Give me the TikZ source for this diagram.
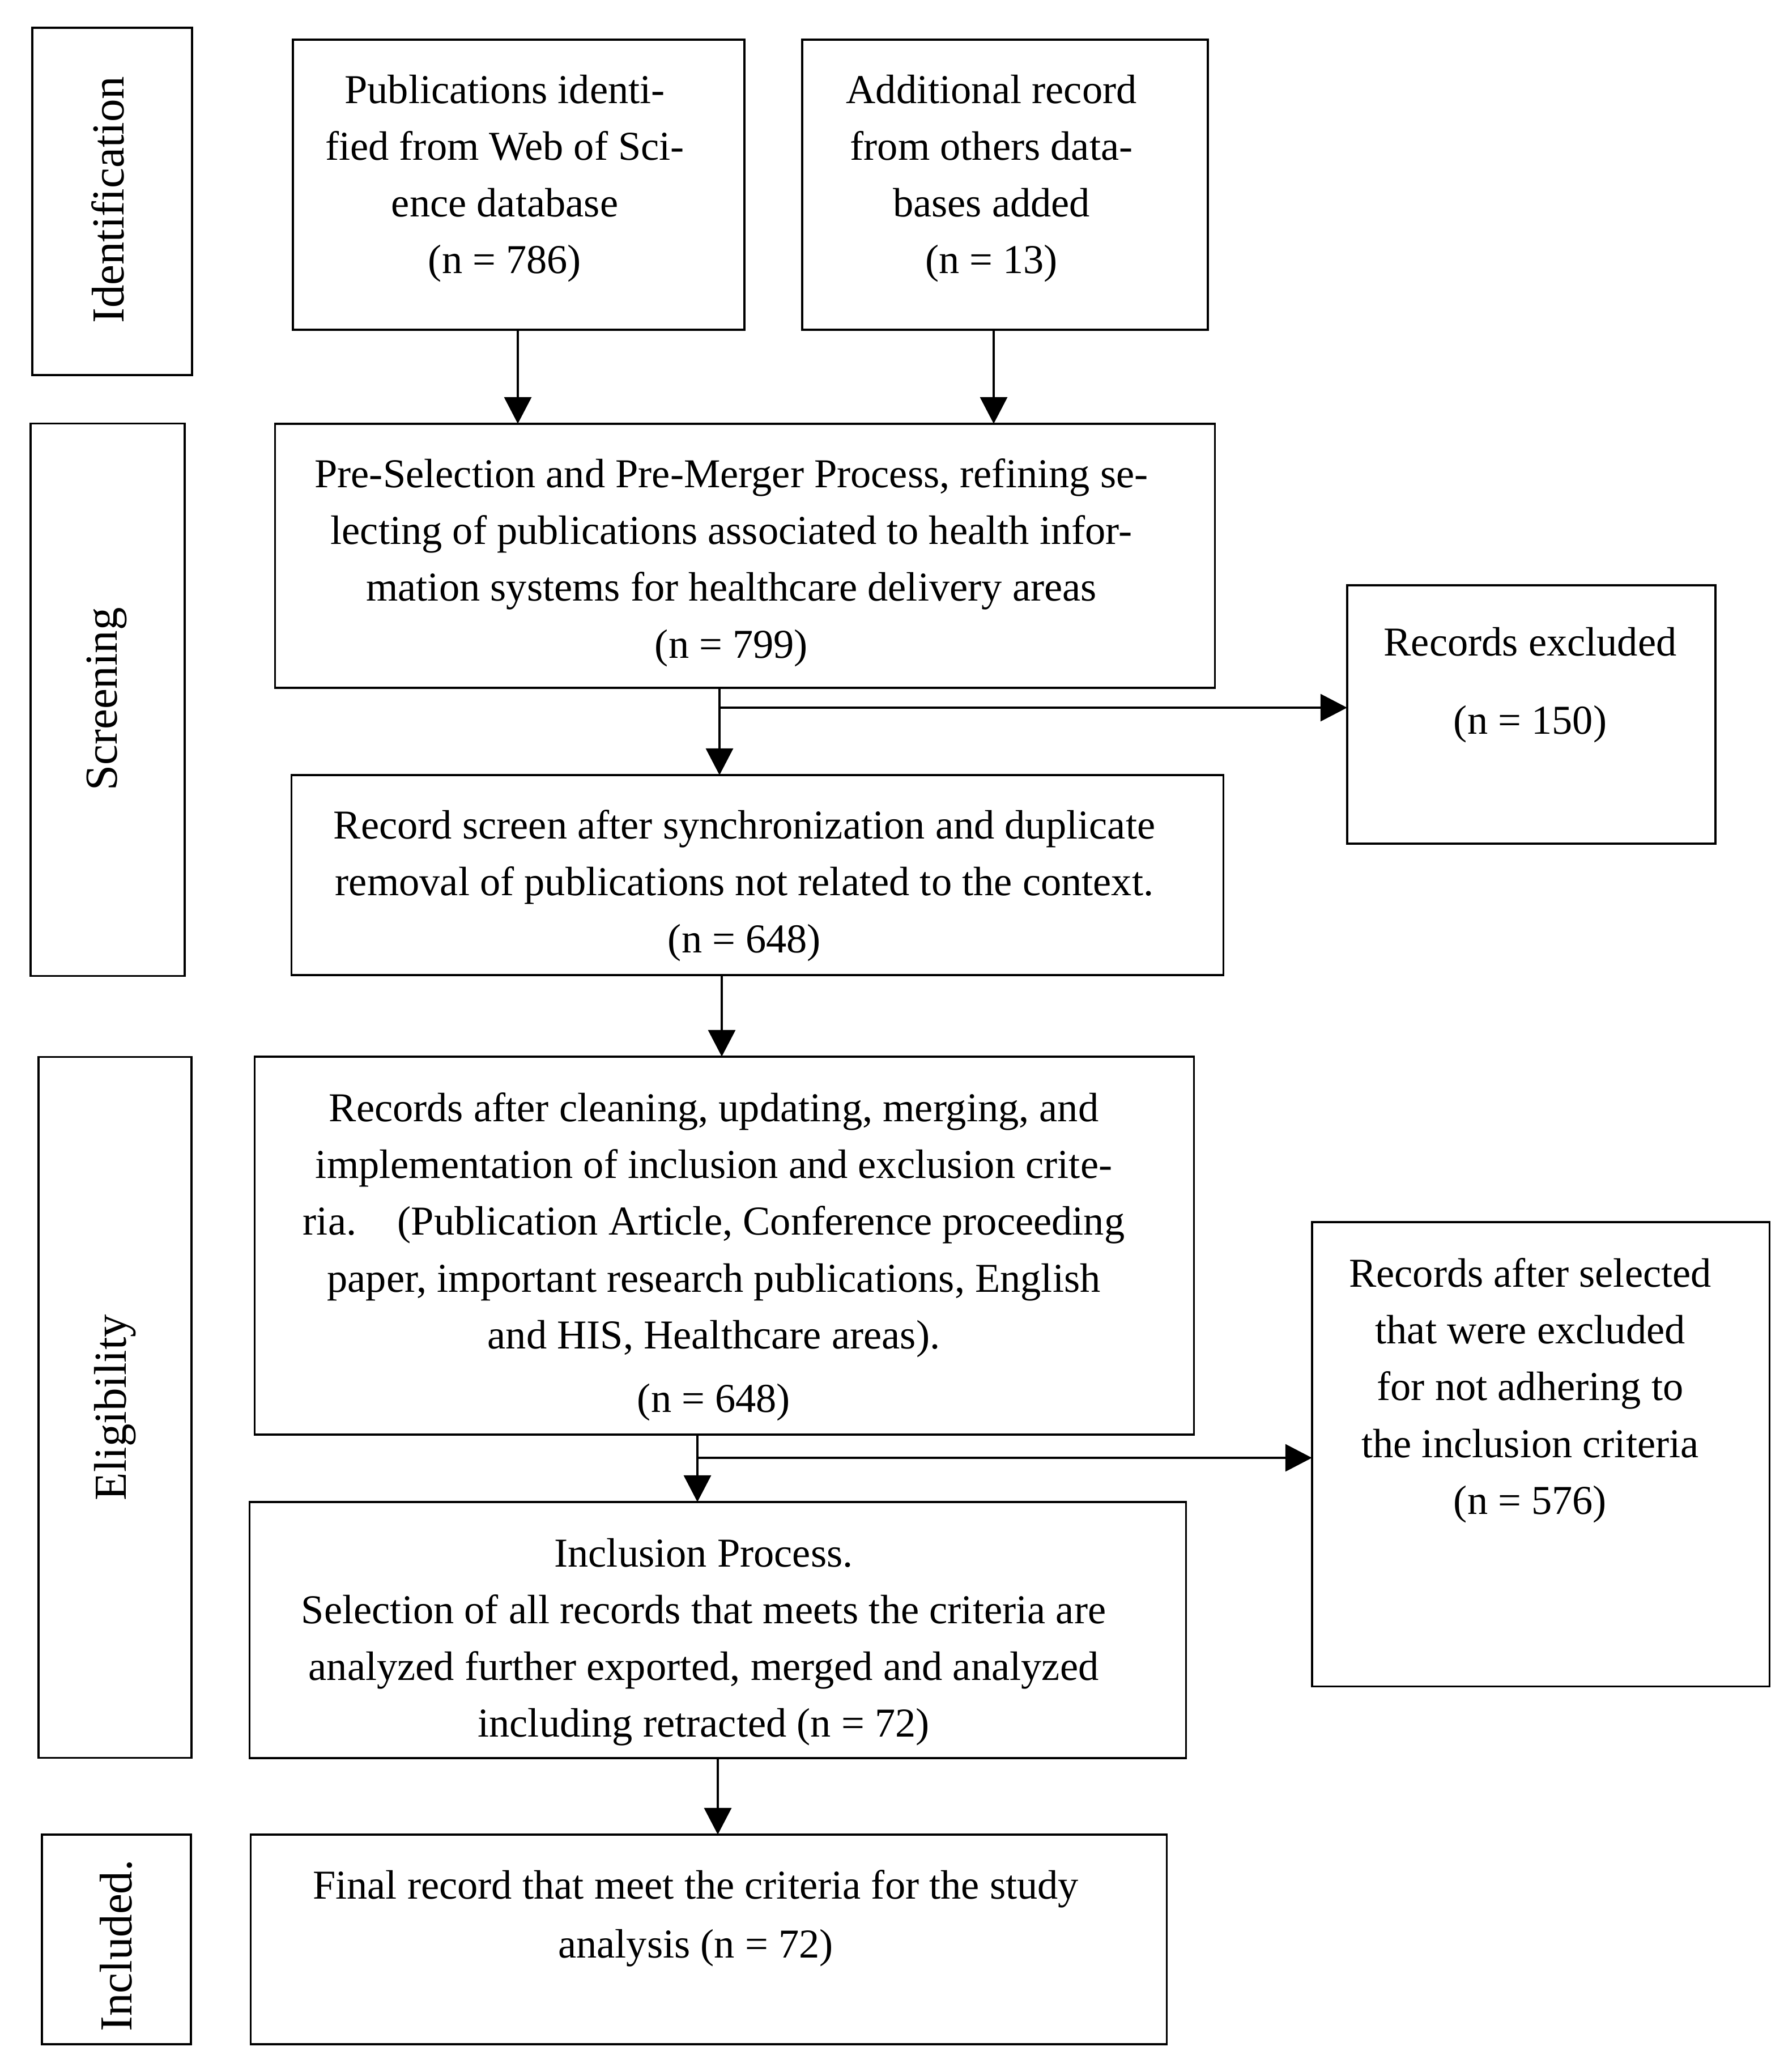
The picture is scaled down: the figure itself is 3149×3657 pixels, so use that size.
\documentclass[tikz,border=0pt]{standalone}
\usepackage{fontspec}
\setmainfont{Liberation Serif}
\usetikzlibrary{arrows.meta}
\begin{document}
\begin{tikzpicture}[x=0.01cm,y=-0.01cm,
  box/.style={draw=black, line width=1pt, inner sep=0pt, outer sep=0pt, fill=none},
  txt/.style={align=center, inner sep=0pt, font=\fontsize{20.6}{28.5}\selectfont},
  lbl/.style={rotate=90, inner sep=0pt, font=\fontsize{23}{27}\selectfont},
  arr/.style={line width=1pt, -{Triangle[length=0.47cm,width=0.48cm]}},
  link/.style={line width=1.1pt}]
\useasboundingbox[fill=white] (0,0) rectangle (3149,3657);

% stage labels
\node[box, minimum width=2.82cm, minimum height=6.13cm] (lid) at (198,355.5) {};
\node[lbl] (tid) at (190,353) {Identification};
\node[box, minimum width=2.72cm, minimum height=9.74cm] (lsc) at (190,1235) {};
\node[lbl] (tsc) at (188,1234) {Screening};
\node[box, minimum width=2.70cm, minimum height=12.36cm] (lel) at (203,2484) {};
\node[lbl] (tel) at (203,2484) {Eligibility};
\node[box, minimum width=2.63cm, minimum height=3.70cm] (lin) at (205.5,3423) {};
\node[lbl] (tin) at (205,3434) {Included.};

% boxes
\node[box, minimum width=7.97cm, minimum height=5.12cm] (b1) at (915.5,326) {};
\node[txt] (t1) at (891,315) {Publications identi-\\fied from Web of Sci-\\ence database\\(n = 786)};
\node[box, minimum width=7.16cm, minimum height=5.12cm] (b2) at (1774,326) {};
\node[txt] (t2) at (1750,315) {Additional record\\from others data-\\bases added\\(n = 13)};
\node[box, minimum width=16.58cm, minimum height=4.66cm] (b3) at (1315,981) {};
\node[txt] (t3) at (1291,993) {Pre-Selection and Pre-Merger Process, refining se-\\lecting of publications associated to health infor-\\mation systems for healthcare delivery areas\\(n = 799)};
\node[box, minimum width=6.50cm, minimum height=4.56cm] (rex) at (2703,1261) {};
\node[txt] (trex) at (2701,1209) {Records excluded\\[10.5pt](n = 150)};
\node[box, minimum width=16.44cm, minimum height=3.53cm] (b4) at (1337,1544.5) {};
\node[txt] (t4) at (1314,1563) {Record screen after synchronization and duplicate\\removal of publications not related to the context.\\(n = 648)};
\node[box, minimum width=16.57cm, minimum height=6.67cm] (b5) at (1278.5,2198.5) {};
\node[txt] (t5) at (1260,2218) {Records after cleaning, updating, merging, and\\implementation of inclusion and exclusion crite-\\ria.\quad(Publication Article, Conference proceeding\\paper, important research publications, English\\and HIS, Healthcare areas).\\[3.3pt](n = 648)};
\node[box, minimum width=8.07cm, minimum height=8.19cm] (b6) at (2719.5,2566.5) {};
\node[txt] (t6) at (2701,2454) {Records after selected\\that were excluded\\for not adhering to\\the inclusion criteria\\(n = 576)};
\node[box, minimum width=16.52cm, minimum height=4.52cm] (b7) at (1267,2877) {};
\node[txt] (t7) at (1242,2898) {Inclusion Process.\\Selection of all records that meets the criteria are\\analyzed further exported, merged and analyzed\\including retracted (n = 72)};
\node[box, minimum width=16.16cm, minimum height=3.70cm] (b8) at (1251,3423) {};
\node[txt] (t8) at (1228,3386) {Final record that meet the criteria for the study\\[1pt]analysis (n = 72)};

% connectors
\coordinate (x1) at (914,0);
\coordinate (x2) at (1754,0);
\coordinate (x3) at (1270,0);
\coordinate (x4) at (1274,0);
\coordinate (x5) at (1231,0);
\coordinate (x6) at (1267,0);
\coordinate (j1) at (1270,1249);
\coordinate (j2) at (1231,2573);
\draw[arr] (b1.south -| x1) -- (b3.north -| x1);
\draw[arr] (b2.south -| x2) -- (b3.north -| x2);
\draw[arr] (b3.south -| x3) -- (b4.north -| x3);
\draw[link,arr] (j1) -- (j1 -| rex.west);
\draw[arr] (b4.south -| x4) -- (b5.north -| x4);
\draw[arr] (b5.south -| x5) -- (b7.north -| x5);
\draw[link,arr] (j2) -- (j2 -| b6.west);
\draw[arr] (b7.south -| x6) -- (b8.north -| x6);
\end{tikzpicture}
\end{document}
